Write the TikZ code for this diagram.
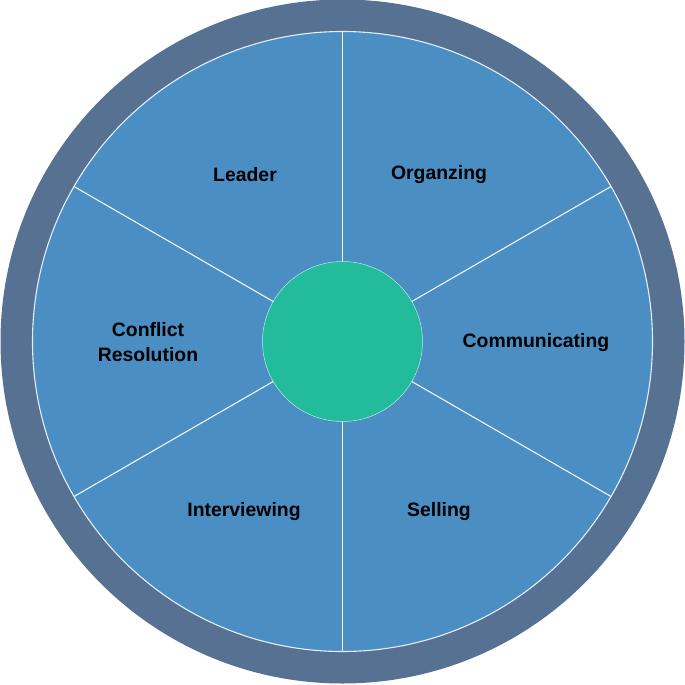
\documentclass[tikz,border=0pt]{standalone}
\usepackage{fontspec}
\setmainfont{Liberation Sans}
\usetikzlibrary{calc}
\definecolor{ringc}{RGB}{86,113,146}
\definecolor{bluec}{RGB}{74,142,196}
\definecolor{greenc}{RGB}{34,187,155}
\tikzset{
  lbl/.style={font=\bfseries\fontsize{19.4}{25}\selectfont, text=black, align=center, inner sep=0pt},
  spoke/.style={draw=white!92!bluec, line width=1.1pt}
}
\begin{document}
\begin{tikzpicture}[x=1pt,y=-1pt]
\useasboundingbox (0,0) rectangle (685,685);
\coordinate (c) at (342.5,341.5);
\fill[ringc] (c) circle[radius=342];
\fill[bluec] (c) circle[radius=310];
\foreach \a/\n in {90/a,30/b,-30/c2,-90/d,150/e,210/f} {
  \coordinate (\n) at ($(c)+(\a:310)$);
  \draw[spoke] (c) -- (\n);
}
\draw[white!85!bluec, line width=1.1pt] (c) circle[radius=310];
\node[circle, fill=greenc, draw=white!70!greenc, line width=0.5pt, minimum size=160pt, inner sep=0pt] (hub) at (c) {};
\node[lbl] (l1) at (245,175) {Leader};
\node[lbl] (l2) at (439,175) {Organzing};
\node[lbl] (l3) at (536,343) {Communicating};
\node[lbl] (l4) at (439,512) {Selling};
\node[lbl] (l5) at (244,512) {Interviewing};
\node[lbl] (l6) at (148,342) {Conflict\\Resolution};
\end{tikzpicture}
\end{document}
